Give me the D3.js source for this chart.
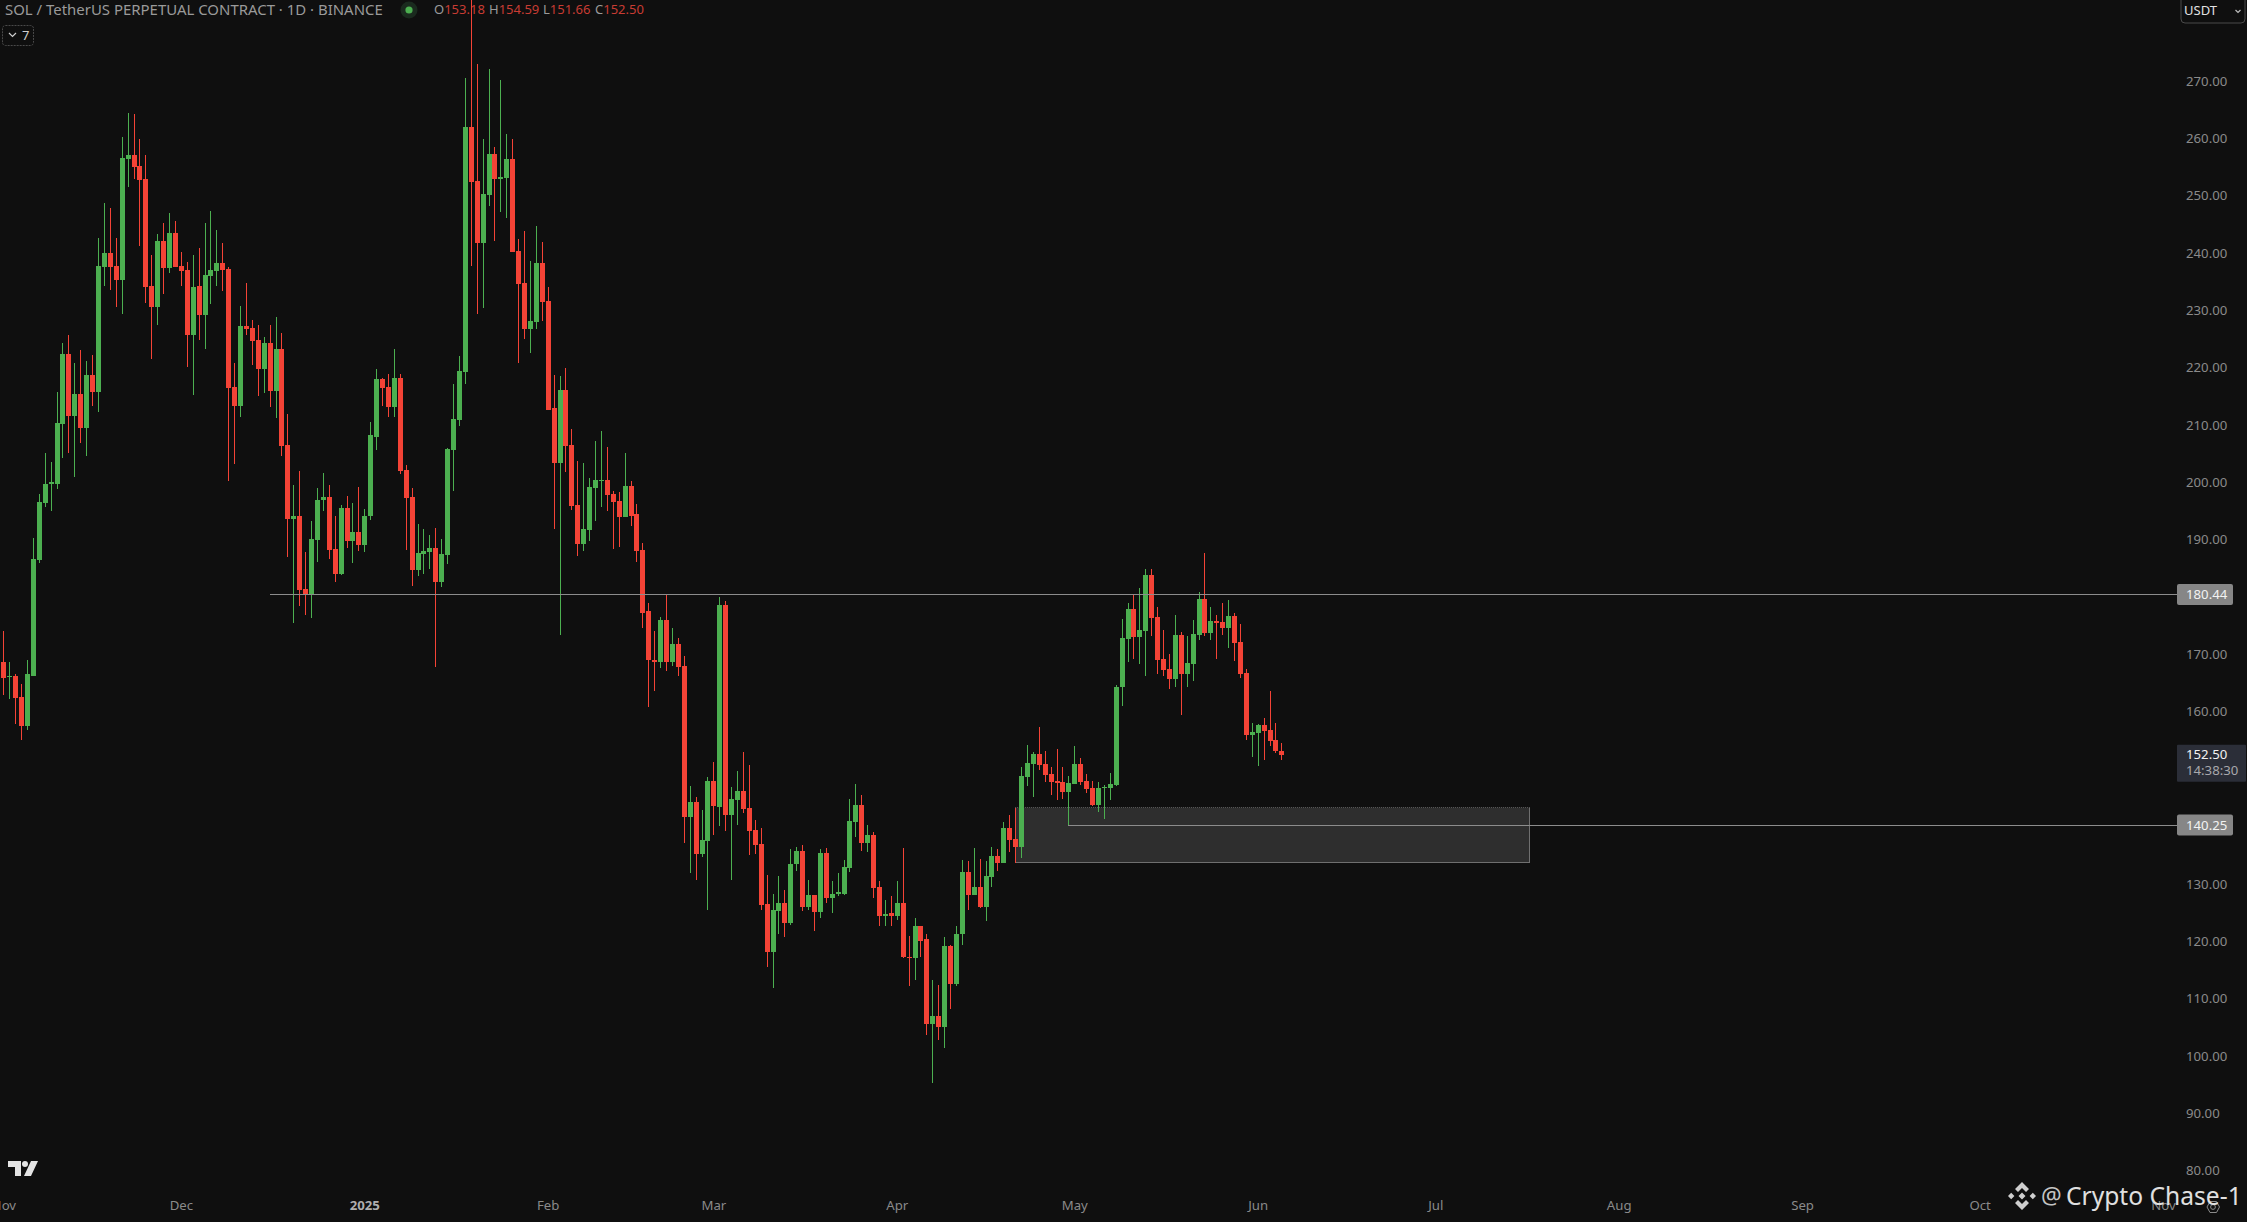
<!DOCTYPE html>
<html><head><meta charset="utf-8">
<script src="https://cdnjs.cloudflare.com/ajax/libs/d3/7.8.5/d3.min.js"></script>
<style>
html,body{margin:0;padding:0;background:#0f0f0f;overflow:hidden}
svg{display:block}
text{font-family:"Noto Sans",sans-serif}
</style></head><body><svg id="c" width="2247" height="1222"></svg>
<script>
const firstDay = "2024-11-01";
const opens = [
168.6,166.0,166.2,162.5,157.6,166.3,186.4,196.4,199.8,199.8,
210.1,222.4,211.6,215.4,209.5,218.7,215.7,237.5,240.0,237.7,
235.3,256.4,257.1,255.2,252.9,234.2,230.6,242.1,237.4,243.5,
237.7,237.0,225.7,234.2,229.2,236.0,236.9,238.2,237.2,216.7,
213.4,227.2,226.9,224.9,219.8,224.3,215.9,223.2,206.5,193.6,
194.2,181.4,180.4,189.9,196.9,197.5,188.3,184.0,195.5,189.8,
191.3,189.1,194.1,208.0,218.0,216.7,213.1,218.2,202.1,197.5,
184.7,187.5,187.8,188.5,182.6,187.3,205.7,210.8,219.3,262.0,
252.6,241.8,250.1,257.2,252.9,253.1,256.4,240.3,234.8,226.7,
228.0,238.2,231.6,212.9,203.4,216.2,206.5,196.0,189.3,191.7,
199.0,200.2,200.4,198.0,196.7,193.9,199.3,194.5,188.2,177.5,
169.1,168.6,176.0,168.6,171.9,167.9,141.6,144.2,135.2,137.4,
148.0,143.4,178.6,142.0,144.6,146.2,143.2,139.4,136.9,126.4,
118.1,125.2,126.6,123.1,133.4,135.8,125.9,128.0,125.0,135.3,
127.5,128.3,128.3,132.7,140.8,143.7,137.1,138.5,129.4,124.3,
124.9,124.3,126.6,117.3,117.0,122.7,120.3,105.6,106.9,105.1,
119.1,112.6,121.2,132.1,128.1,129.4,125.9,131.1,134.8,133.7,
139.8,137.8,136.4,148.6,150.9,152.6,150.9,149.1,147.9,147.7,
146.0,147.4,150.9,147.9,146.7,143.7,146.8,146.7,147.2,164.3,
172.7,177.9,173.0,174.0,183.8,176.5,169.2,167.4,165.7,173.4,
166.6,168.3,173.4,179.7,173.7,175.8,175.6,174.6,176.7,172.1,
166.8,155.9,156.3,157.7,156.8,155.0,153.18];
const highs = [
174.0,168.6,166.5,164.9,169.1,190.3,197.9,205.2,203.5,215.7,
224.3,225.7,220.8,223.1,221.1,222.2,242.6,248.7,247.8,242.6,
260.2,264.5,264.3,259.9,257.1,239.7,243.4,245.3,246.9,245.5,
240.2,238.5,239.7,240.9,245.2,247.3,244.0,241.7,237.6,220.9,
230.7,234.7,228.4,227.4,225.4,227.4,228.9,226.0,212.0,199.6,
201.9,187.8,193.3,199.0,201.7,199.6,194.2,196.0,197.7,196.4,
199.2,195.3,210.5,219.7,218.2,218.9,223.2,218.9,203.1,199.0,
192.8,191.9,190.9,192.0,190.1,206.0,217.1,222.1,270.6,295.0,
273.0,259.8,272.1,258.5,270.1,260.8,259.9,242.5,243.8,238.6,
244.7,241.9,234.1,218.7,218.5,219.9,209.3,203.8,203.4,200.7,
207.3,208.9,206.2,198.5,198.3,205.2,200.2,196.2,189.5,179.0,
174.1,176.6,180.4,174.6,172.9,169.7,147.0,145.2,142.8,148.7,
151.2,180.0,179.4,146.8,149.6,152.9,150.8,141.1,139.8,131.5,
128.3,131.3,128.9,136.0,136.5,136.7,130.6,128.1,136.0,136.2,
130.4,131.8,134.1,144.8,147.4,145.4,140.2,139.0,130.4,127.1,
127.8,130.4,136.2,120.9,124.0,122.7,121.2,113.2,112.4,120.7,
119.3,122.7,134.1,133.9,136.2,134.4,133.9,136.4,136.0,140.7,
142.0,143.3,150.3,154.2,152.9,157.3,153.1,150.3,153.5,150.3,
148.8,154.0,151.9,149.1,147.9,147.7,147.2,149.4,164.6,176.2,
178.9,180.3,181.5,184.9,184.9,178.2,174.2,170.1,176.8,173.9,
173.2,176.0,180.8,187.7,178.2,176.8,179.0,179.5,177.3,175.3,
167.4,158.0,157.9,158.9,163.6,158.0,154.59];
const lows = [
163.0,162.3,157.8,155.0,156.9,166.3,186.0,195.7,195.0,198.9,
204.2,205.1,200.9,206.8,204.6,213.4,212.3,234.2,233.6,230.6,
229.3,251.5,252.9,241.2,231.3,221.6,227.5,232.8,236.5,237.5,
234.2,220.2,215.3,224.9,223.2,231.1,234.2,233.4,200.2,203.2,
211.4,225.7,220.5,215.0,215.6,213.2,211.2,204.6,187.0,175.4,
178.4,176.8,176.3,186.1,195.0,186.7,182.7,183.8,188.5,185.9,
188.0,187.8,193.4,205.7,213.4,211.4,211.4,201.4,188.2,181.9,
183.6,184.0,184.9,167.8,181.7,185.7,198.5,209.8,217.2,237.7,
229.3,230.4,248.2,242.1,247.2,246.1,240.2,220.9,225.0,222.6,
226.7,228.1,212.7,191.9,173.4,201.8,195.2,187.1,188.0,189.8,
193.2,195.7,195.0,188.3,188.7,193.9,192.4,186.1,174.6,160.8,
163.7,167.6,167.1,168.0,166.3,137.2,131.8,130.6,134.6,125.5,
138.5,140.0,139.2,130.6,140.2,142.3,135.0,135.2,125.4,115.5,
111.9,121.2,120.7,122.9,132.3,125.2,125.5,121.7,124.1,126.6,
124.9,127.9,128.1,132.0,138.1,135.8,135.5,127.5,122.6,122.7,
122.6,123.6,117.0,112.1,113.2,117.2,103.7,95.2,102.8,101.3,
108.2,112.1,119.3,125.4,128.0,125.7,123.5,129.4,132.3,133.6,
135.5,133.7,134.5,147.0,145.1,149.8,147.7,145.5,144.6,144.8,
140.2,147.4,147.2,145.8,143.5,142.5,141.3,144.6,147.0,161.0,
168.6,169.2,168.3,166.2,173.2,166.6,166.2,164.0,164.4,159.4,
164.4,165.3,172.5,173.2,172.5,169.2,173.4,171.1,168.8,165.9,
155.0,152.1,150.5,151.6,154.0,152.8,151.66];
const closes = [
165.9,166.3,162.4,157.6,166.5,186.6,196.5,199.8,200.1,210.3,
222.4,211.6,215.4,209.5,218.7,215.7,237.7,240.0,237.5,235.3,
256.6,257.1,255.0,252.8,234.1,230.6,242.1,237.4,243.5,237.5,
236.9,225.7,234.1,229.2,236.2,237.0,238.2,237.0,216.4,213.4,
227.2,226.7,224.6,219.8,224.3,215.9,223.2,206.3,193.6,194.2,
181.2,180.4,190.1,197.0,197.5,188.2,184.0,195.5,189.8,191.3,
189.1,194.2,208.3,218.0,216.5,213.1,218.2,201.9,197.3,184.7,
187.6,188.0,188.5,182.6,187.5,205.8,211.1,219.4,262.0,252.4,
241.8,250.3,257.2,252.9,253.3,256.4,240.2,234.6,226.7,228.2,
238.2,231.5,212.7,203.4,216.2,206.3,195.8,189.3,191.9,199.2,
200.4,200.5,197.8,196.5,193.9,199.3,194.2,188.0,177.3,169.0,
168.6,176.0,168.6,171.9,167.8,141.6,144.2,135.2,137.6,148.0,
143.5,178.6,142.0,144.8,146.2,143.0,139.2,136.7,126.3,118.1,
125.4,126.6,123.1,133.5,135.8,125.9,128.0,125.0,135.3,127.5,
128.3,128.5,132.9,140.9,143.7,137.1,138.5,129.2,124.3,124.7,
124.3,126.6,117.2,117.0,122.7,120.1,105.6,106.9,105.1,119.1,
112.6,121.3,132.1,128.1,129.4,125.9,131.3,134.8,133.7,139.8,
137.6,136.4,148.8,151.1,152.6,150.7,148.9,147.7,147.7,146.0,
147.6,150.9,147.7,146.5,143.7,146.7,146.9,147.4,164.4,172.9,
177.9,173.0,174.2,183.8,176.3,169.0,167.3,165.7,173.4,166.6,
168.5,173.5,179.7,173.7,175.8,175.6,174.6,176.7,172.0,166.6,
155.9,156.4,157.7,156.6,154.9,153.1,152.50];

const priceTicks = [80,90,100,110,120,130,160,170,190,200,210,220,230,240,250,260,270];
const timeTicks = ["2024-11-01","2024-12-01","2025-01-01","2025-02-01","2025-03-01","2025-04-01","2025-05-01","2025-06-01","2025-07-01","2025-08-01","2025-09-01","2025-10-01","2025-11-01"];
const timeLabels = ["Nov","Dec","2025","Feb","Mar","Apr","May","Jun","Jul","Aug","Sep","Oct","Nov"];
const levelHigh = {price:180.44, from:"2024-12-16"};
const levelLow  = {price:140.25, from:"2025-04-30"};
const zone = {top:143.3, bottom:133.7, from:"2025-04-21", to:"2025-07-17"};
const lastPrice = 152.50, countdown = "14:38:30";
const title = "SOL / TetherUS PERPETUAL CONTRACT · 1D · BINANCE";
const legend = [["O","153.18"],["H","154.59"],["L","151.66"],["C","152.50"]];

const UP="#4CAF50", DOWN="#F44336", GRID="#8a8a8a";
const d = s => new Date(s+"T00:00:00Z");
const x = d3.scaleUtc().domain([d("2024-11-01"),d("2025-11-01")]).range([3.33,2163]);
const y = d3.scaleLinear().domain([80,270]).range([1170.5,81]);
const svg = d3.select("#c");
svg.append("rect").attr("width",2247).attr("height",1222).attr("fill","#0f0f0f");

/* header text */
const head = svg.append("g");
head.append("text").attr("x",5).attr("y",15).attr("font-size",14.95).attr("fill","#9a9a9a").text(title);
head.append("circle").attr("cx",409).attr("cy",10).attr("r",8.5).attr("fill","#1a2a1e");
head.append("circle").attr("cx",409).attr("cy",10).attr("r",3.6).attr("fill","#4CAF50");
const legX=[434,489,543,595];
legend.forEach((l,i)=>{
  const t=head.append("text").attr("x",legX[i]).attr("y",10).attr("dy","0.33em").attr("font-size",13).attr("fill","#9a9a9a");
  t.append("tspan").text(l[0]);
  t.append("tspan").attr("fill","#c83c33").text(l[1]);
});
head.append("rect").attr("x",2.5).attr("y",25.5).attr("width",31).attr("height",20).attr("rx",3).attr("fill","none").attr("stroke","#4a4a4a").attr("stroke-dasharray","2 1");
head.append("path").attr("d","M9 33 l3.5 3.5 l3.5 -3.5").attr("fill","none").attr("stroke","#cfcfcf").attr("stroke-width",1.2);
head.append("text").attr("x",22).attr("y",40).attr("font-size",13).attr("fill","#cfcfcf").text("7");

/* zone */
svg.append("rect").attr("x",x(d(zone.from))).attr("y",y(zone.top))
  .attr("width",x(d(zone.to))-x(d(zone.from))).attr("height",y(zone.bottom)-y(zone.top))
  .attr("fill","#2e2e2e");
const zp=d3.path();
zp.moveTo(x(d(zone.from)),y(zone.top));zp.lineTo(x(d(zone.from)),y(zone.bottom));zp.lineTo(x(d(zone.to)),y(zone.bottom));zp.lineTo(x(d(zone.to)),y(zone.top));
svg.append("path").attr("d",zp.toString()).attr("fill","none").attr("stroke","#6f6f6f").attr("stroke-width",1).attr("shape-rendering","crispEdges");
svg.append("line").attr("x1",x(d(zone.from))).attr("x2",x(d(zone.to))).attr("y1",y(zone.top)).attr("y2",y(zone.top))
  .attr("stroke","#555").attr("stroke-dasharray","1 1").attr("shape-rendering","crispEdges");

/* candles */
const days = opens.map((_,i)=>d3.utcDay.offset(d(firstDay),i));
const data = days.map((t,i)=>({t,o:opens[i],h:highs[i],l:lows[i],c:closes[i]}));
const col = r => r.c>=r.o?UP:DOWN;
const px = r => Math.round(x(r.t));
const cg = svg.append("g").attr("shape-rendering","crispEdges");
cg.selectAll("rect.w").data(data).join("rect").attr("class","w")
  .attr("x",r=>px(r)).attr("width",1)
  .attr("y",r=>y(r.h)).attr("height",r=>y(r.l)-y(r.h)).attr("fill",col);
cg.selectAll("rect.b").data(data).join("rect").attr("class","b")
  .attr("x",r=>px(r)-2).attr("width",5)
  .attr("y",r=>y(Math.max(r.o,r.c))).attr("height",r=>Math.max(1.5,Math.abs(y(r.o)-y(r.c)))).attr("fill",col);

/* horizontal levels */
[levelHigh,levelLow].forEach(l=>{
  svg.append("line").attr("x1",x(d(l.from))).attr("x2",2177).attr("y1",y(l.price)).attr("y2",y(l.price))
    .attr("stroke","#8c8c8c").attr("stroke-width",1).attr("shape-rendering","crispEdges");
});

/* axes */
const yAxis = d3.axisRight(y).tickValues(priceTicks).tickSize(0).tickPadding(0).tickFormat(d3.format(".2f"));
const ya = svg.append("g").attr("transform","translate(2186,0)").call(yAxis);
ya.select(".domain").remove();
ya.selectAll("text").attr("font-size",13.2).attr("fill",GRID).attr("font-family",'"Noto Sans",sans-serif');

const xAxis = d3.axisBottom(x).tickValues(timeTicks.map(d)).tickSize(0).tickPadding(0)
  .tickFormat((_,i)=>timeLabels[i]);
const xa = svg.append("g").attr("transform","translate(0,1200.5)").call(xAxis);
xa.select(".domain").remove();
xa.selectAll("text").attr("font-size",13.2).attr("fill",GRID).attr("font-family",'"Noto Sans",sans-serif')
  .attr("font-weight",(_,i)=>timeLabels[i]==="2025"?700:400)
  .attr("fill",(_,i)=>timeLabels[i]==="2025"?"#aeaeae":GRID);

/* price labels */
[levelHigh,levelLow].forEach(l=>{
  const yy=y(l.price);
  svg.append("rect").attr("x",2177).attr("y",yy-10.5).attr("width",56).attr("height",21).attr("rx",2).attr("fill","#868686");
  svg.append("text").attr("x",2186).attr("y",yy).attr("dy","0.35em").attr("font-size",13.2).attr("fill","#f2f2f2").text(l.price.toFixed(2));
});
const ly=y(lastPrice);
svg.append("rect").attr("x",2177).attr("y",ly-10).attr("width",69).attr("height",37).attr("rx",1).attr("fill","#2b2e38");
svg.append("text").attr("x",2186).attr("y",ly-0.5).attr("dy","0.35em").attr("font-size",13.2).attr("fill","#f2f2f2").text(lastPrice.toFixed(2));
svg.append("text").attr("x",2186).attr("y",ly+16).attr("dy","0.35em").attr("font-size",13.2).attr("fill","#a8a8ac").text(countdown);

/* USDT box */
svg.append("rect").attr("x",2181).attr("y",-6).attr("width",64).attr("height",29).attr("rx",4).attr("fill","none").attr("stroke","#4a4a4a");
svg.append("text").attr("x",2184).attr("y",15).attr("font-size",13).attr("fill","#e2e2e2").text("USDT");
svg.append("path").attr("d","M2235.5 10 l2.5 2.5 l2.5 -2.5").attr("fill","none").attr("stroke","#bdbdbd").attr("stroke-width",1.2);

/* TradingView mark */
const tv="#e4e4e4";
svg.append("path").attr("d","M8 1161 H21 V1176 H15 V1167 H8 Z").attr("fill",tv);
svg.append("circle").attr("cx",25).attr("cy",1164).attr("r",3).attr("fill",tv);
svg.append("path").attr("d","M31 1161 H38 L31 1176 H24 Z").attr("fill",tv);

/* settings icon */
svg.append("path").attr("d","M2207 1207 l3 -5.5 h6.5 l3 5.5 l-3 5.5 h-6.5 Z").attr("fill","none").attr("stroke","#8a8a8a");
svg.append("circle").attr("cx",2213).attr("cy",1207).attr("r",2.4).attr("fill","none").attr("stroke","#8a8a8a");

/* watermark */
const wm=svg.append("g").attr("fill","#cfcfcf");
const dx=2022, dy=1196;
wm.append("path").attr("d",`M${dx} ${dy-14} l7 7 l-3 3 l-4 -4 l-4 4 l-3 -3 Z M${dx} ${dy+14} l7 -7 l-3 -3 l-4 4 l-4 -4 l-3 3 Z M${dx-14} ${dy} l3.2 -3.2 l3.2 3.2 l-3.2 3.2 Z M${dx+14} ${dy} l-3.2 -3.2 l-3.2 3.2 l3.2 3.2 Z M${dx} ${dy-3.5} l3.5 3.5 l-3.5 3.5 l-3.5 -3.5 Z`);
svg.append("text").attr("x",2041).attr("y",1204).attr("font-size",23).attr("fill","#c4c4c4").text("@");
svg.append("text").attr("x",2066).attr("y",1205).attr("font-size",24.6).attr("fill","#e0e0e0").text("Crypto Chase-1");
</script></body></html>
